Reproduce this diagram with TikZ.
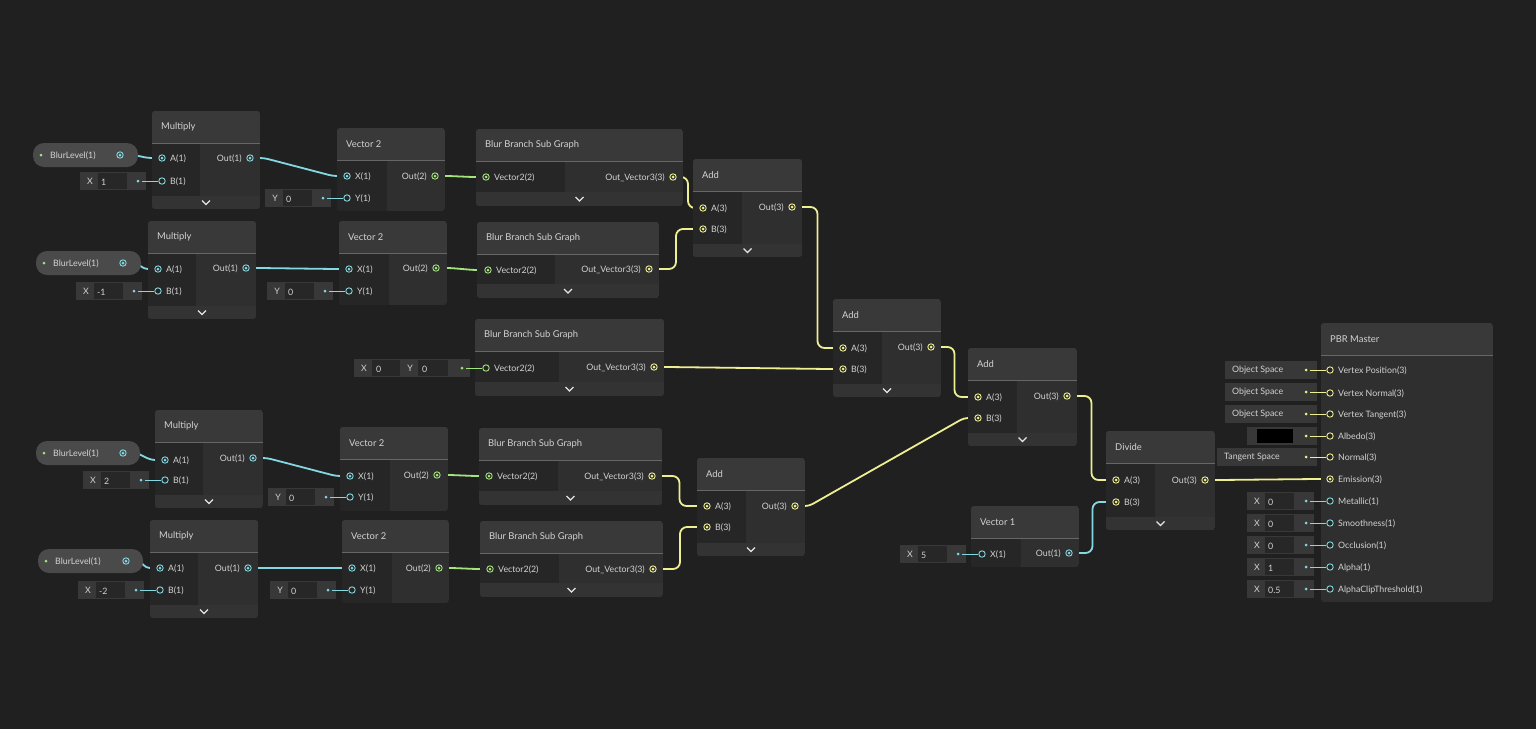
\documentclass[tikz,border=0pt]{standalone}
\usepackage{fontspec}
\setmainfont{Lato}
\usetikzlibrary{calc}
\pgfdeclarelayer{wires}
\pgfsetlayers{wires,main}
\definecolor{bg}{HTML}{202020}
\definecolor{nbody}{HTML}{2F2F2F}
\definecolor{nin}{HTML}{262626}
\definecolor{nhead}{HTML}{393939}
\definecolor{nfoot}{HTML}{333333}
\definecolor{fld}{HTML}{383838}
\definecolor{fldin}{HTML}{272727}
\definecolor{pill}{HTML}{4A4A4A}
\definecolor{cya}{HTML}{84D8E2}
\definecolor{grn}{HTML}{A4E47C}
\definecolor{yel}{HTML}{EEEE92}
\definecolor{txt}{HTML}{D2D2D2}
\tikzset{
  lbl/.style={text=txt,font=\fontsize{8.8}{10}\selectfont,inner sep=0pt},
  ttl/.style={text=txt,font=\fontsize{9.4}{11}\selectfont,inner sep=0pt,anchor=west},
  wire/.style={line width=1.8pt,rounded corners=4pt},
  vwirest/.style={line width=1.8pt,rounded corners=7pt},
}
\newcommand\gnode[8]{%
  \begin{scope}
    \clip[rounded corners=3pt] (#2,#3) rectangle (#4,#5);
    \fill[nbody] (#2,#3) rectangle (#4,#5);
    \fill[nhead] (#2,#3) rectangle (#4,#3+32);
    \ifnum#8>0
      \fill[nin] (#2,#3+32) rectangle (#6,#8);
      \fill[nfoot] (#2,#8) rectangle (#4,#5);
      \draw[white!90!black,line width=1.3pt] ({(#2+#4)/2-4},{(#8+#5)/2-2}) -- ({(#2+#4)/2},{(#8+#5)/2+2}) -- ({(#2+#4)/2+4},{(#8+#5)/2-2});
    \else
      \fill[nin] (#2,#3+32) rectangle (#6,#5);
    \fi
    \draw[black!60,line width=0.6pt] (#2,#3+32) -- (#4,#3+32);
  \end{scope}
  \node[ttl] (#1) at (#2+9,#3+16) {#7};
}
\newcommand\inport[6]{%
  \coordinate (#1) at (#2,#3);
  \fill[nin] (#1) circle (3.6pt);
  \draw[#4,line width=0.9pt] (#1) circle (3.2pt);
  \ifnum#5=1 \fill[#4] (#1) circle (1.5pt);\fi
  \node[lbl,anchor=west] (#1l) at (#2+8,#3+1) {#6};
}
\newcommand\outport[6]{%
  \coordinate (#1) at (#2,#3);
  \fill[nbody] (#1) circle (3.6pt);
  \draw[#4,line width=0.9pt] (#1) circle (3.2pt);
  \ifnum#5=1 \fill[#4] (#1) circle (1.5pt);\fi
  \node[lbl,anchor=east] (#1l) at (#2-8,#3+1) {#6};
}
\newcommand\valfield[7]{%
  \fill[fld] (#2,#4-9) rectangle (#3-16,#4+9);
  \fill[fldin] (#2+18,#4-8) rectangle (#2+47,#4+8);
  \node[lbl] (#1) at (#2+10,#4) {#5};
  \node[lbl,anchor=west] (#1v) at (#2+21,#4+1) {#6};
  \coordinate (#1d) at (#3-24,#4);
  \fill[#7] (#1d) circle (1.5pt);
  \draw[#7,line width=0.8pt] (#3-20,#4) -- (#3-4,#4);
}
\newcommand\blur[5]{%
  \fill[pill,rounded corners=11pt] (#2,#4-12) rectangle (#3,#4+12);
  \fill[grn] (#2+8,#4) circle (1.5pt);
  \node[lbl,anchor=west] (#1) at (#2+17,#4+1) {BlurLevel(1)};
  \coordinate (#1o) at (#5,#4);
  \draw[cya,line width=0.9pt] (#1o) circle (3.2pt);
  \fill[cya] (#1o) circle (1.5pt);
}
\newcommand\spacefield[6]{%
  \fill[fld] (#2,#4-9) rectangle (#3,#4+9);
  \node[lbl,anchor=west] (#1) at (#2+7,#4) {#6};
  \fill[yel] (#5-24,#4) circle (1.5pt);
  \draw[yel,line width=0.8pt] (#5-20,#4) -- (#5-4,#4);
}
\newcommand\wire[3]{\draw[wire,#1] (#2) -- ++(14pt,0) -- ($(#3)+(-14pt,0)$) -- (#3);}
\newcommand\vwire[3]{\draw[vwirest,#1] (#2) -| ($(#2)!0.5!(#3)$) |- (#3);}
\begin{document}
\begin{tikzpicture}[x=1pt,y=-1pt]
\useasboundingbox (0,0) rectangle (1536,729);
\begin{pgfonlayer}{wires}
\fill[bg] (0,0) rectangle (1536,729);
\end{pgfonlayer}

\gnode{m1}{152}{111}{260}{209}{200}{Multiply}{196}
\inport{m1a}{162}{158}{cya}{1}{A(1)} \inport{m1b}{162}{181}{cya}{0}{B(1)}
\outport{m1o}{250}{158}{cya}{1}{Out(1)}
\gnode{m2}{148}{221}{256}{319}{196}{Multiply}{306}
\inport{m2a}{158}{269}{cya}{1}{A(1)} \inport{m2b}{158}{291}{cya}{0}{B(1)}
\outport{m2o}{246}{268}{cya}{1}{Out(1)}
\gnode{m3}{155}{410}{263}{508}{203}{Multiply}{495}
\inport{m3a}{165}{460}{cya}{1}{A(1)} \inport{m3b}{165}{480}{cya}{0}{B(1)}
\outport{m3o}{253}{458}{cya}{1}{Out(1)}
\gnode{m4}{150}{520}{258}{618}{198}{Multiply}{605}
\inport{m4a}{160}{568}{cya}{1}{A(1)} \inport{m4b}{160}{590}{cya}{0}{B(1)}
\outport{m4o}{248}{568}{cya}{1}{Out(1)}

\gnode{v1}{337}{128}{445}{211}{387}{Vector 2}{0}
\inport{v1x}{347}{176}{cya}{1}{X(1)} \inport{v1y}{347}{198}{cya}{0}{Y(1)}
\outport{v1o}{435}{176}{grn}{1}{Out(2)}
\gnode{v2}{339}{221}{447}{305}{389}{Vector 2}{0}
\inport{v2x}{349}{269}{cya}{1}{X(1)} \inport{v2y}{349}{291}{cya}{0}{Y(1)}
\outport{v2o}{436}{268}{grn}{1}{Out(2)}
\gnode{v3}{340}{427}{448}{511}{390}{Vector 2}{0}
\inport{v3x}{350}{476}{cya}{1}{X(1)} \inport{v3y}{350}{497}{cya}{0}{Y(1)}
\outport{v3o}{437}{475}{grn}{1}{Out(2)}
\gnode{v4}{342}{520}{449}{603}{392}{Vector 2}{0}
\inport{v4x}{352}{568}{cya}{1}{X(1)} \inport{v4y}{352}{590}{cya}{0}{Y(1)}
\outport{v4o}{439}{568}{grn}{1}{Out(2)}

\gnode{b1}{476}{129}{683}{206}{565}{Blur Branch Sub Graph}{192}
\inport{b1i}{486}{177}{grn}{1}{Vector2(2)} \outport{b1o}{673}{177}{yel}{1}{Out\_Vector3(3)}
\gnode{b2}{477}{222}{659}{298}{555}{Blur Branch Sub Graph}{284}
\inport{b2i}{488}{270}{grn}{1}{Vector2(2)} \outport{b2o}{649}{269}{yel}{1}{Out\_Vector3(3)}
\gnode{b3}{475}{319}{664}{396}{559}{Blur Branch Sub Graph}{382}
\inport{b3i}{486}{368}{grn}{0}{Vector2(2)} \outport{b3o}{654}{367}{yel}{1}{Out\_Vector3(3)}
\gnode{b4}{479}{428}{662}{505}{558}{Blur Branch Sub Graph}{491}
\inport{b4i}{489}{476}{grn}{1}{Vector2(2)} \outport{b4o}{652}{476}{yel}{1}{Out\_Vector3(3)}
\gnode{b5}{480}{521}{663}{597}{559}{Blur Branch Sub Graph}{583}
\inport{b5i}{490}{569}{grn}{1}{Vector2(2)} \outport{b5o}{653}{569}{yel}{1}{Out\_Vector3(3)}

\gnode{a1}{693}{159}{802}{257}{742}{Add}{244}
\inport{a1a}{703}{208}{yel}{1}{A(3)} \inport{a1b}{703}{229}{yel}{1}{B(3)}
\outport{a1o}{792}{207}{yel}{1}{Out(3)}
\gnode{a2}{833}{299}{941}{397}{882}{Add}{384}
\inport{a2a}{843}{348}{yel}{1}{A(3)} \inport{a2b}{843}{369}{yel}{1}{B(3)}
\outport{a2o}{931}{347}{yel}{1}{Out(3)}
\gnode{a3}{968}{348}{1077}{446}{1017}{Add}{433}
\inport{a3a}{978}{397}{yel}{1}{A(3)} \inport{a3b}{978}{418}{yel}{1}{B(3)}
\outport{a3o}{1067}{396}{yel}{1}{Out(3)}
\gnode{a4}{697}{458}{805}{556}{746}{Add}{543}
\inport{a4a}{707}{506}{yel}{1}{A(3)} \inport{a4b}{707}{527}{yel}{1}{B(3)}
\outport{a4o}{795}{506}{yel}{1}{Out(3)}

\gnode{dv}{1106}{431}{1215}{530}{1155}{Divide}{517}
\inport{dva}{1116}{480}{yel}{1}{A(3)} \inport{dvb}{1116}{502}{yel}{1}{B(3)}
\outport{dvo}{1205}{480}{yel}{1}{Out(3)}
\gnode{vc1}{971}{506}{1079}{567}{1021}{Vector 1}{0}
\inport{vc1x}{982}{554}{cya}{0}{X(1)} \outport{vc1o}{1069}{553}{cya}{1}{Out(1)}

\begin{scope}
\clip[rounded corners=3pt] (1321,323) rectangle (1493,602);
\fill[nbody] (1321,323) rectangle (1493,602);
\fill[nhead] (1321,323) rectangle (1493,355);
\draw[black!60,line width=0.6pt] (1321,355) -- (1493,355);
\end{scope}
\node[ttl] (pbr) at (1330,339) {PBR Master};
\inport{p1}{1330}{370}{yel}{0}{Vertex Position(3)}
\inport{p2}{1330}{393}{yel}{0}{Vertex Normal(3)}
\inport{p3}{1330}{414}{yel}{0}{Vertex Tangent(3)}
\inport{p4}{1330}{436}{yel}{0}{Albedo(3)}
\inport{p5}{1330}{457}{yel}{0}{Normal(3)}
\inport{p6}{1330}{479}{yel}{1}{Emission(3)}
\inport{p7}{1330}{501}{cya}{0}{Metallic(1)}
\inport{p8}{1330}{523}{cya}{0}{Smoothness(1)}
\inport{p9}{1330}{545}{cya}{0}{Occlusion(1)}
\inport{p10}{1330}{567}{cya}{0}{Alpha(1)}
\inport{p11}{1330}{589}{cya}{0}{AlphaClipThreshold(1)}
\spacefield{s1}{1225}{1317}{370}{1330}{Object Space}
\spacefield{s2}{1225}{1317}{392}{1330}{Object Space}
\spacefield{s3}{1225}{1317}{414}{1330}{Object Space}
\fill[fld] (1247,427) rectangle (1317,445);
\fill[black] (1257,429) rectangle (1293,443);
\fill[yel] (1306,436) circle (1.5pt); \draw[yel,line width=0.8pt] (1310,436) -- (1326,436);
\spacefield{s5}{1217}{1317}{457}{1330}{Tangent Space}
\valfield{f7}{1247}{1330}{501}{X}{0}{cya}
\valfield{f8}{1247}{1330}{523}{X}{0}{cya}
\valfield{f9}{1247}{1330}{545}{X}{0}{cya}
\valfield{f10}{1247}{1330}{567}{X}{1}{cya}
\valfield{f11}{1247}{1330}{589}{X}{0.5}{cya}

\valfield{x1}{80}{162}{181}{X}{1}{cya}
\valfield{x2}{76}{158}{291}{X}{-1}{cya}
\valfield{x3}{83}{165}{480}{X}{2}{cya}
\valfield{x4}{78}{160}{590}{X}{-2}{cya}
\valfield{y1}{265}{347}{198}{Y}{0}{cya}
\valfield{y2}{267}{349}{291}{Y}{0}{cya}
\valfield{y3}{268}{350}{497}{Y}{0}{cya}
\valfield{y4}{270}{352}{590}{Y}{0}{cya}
\valfield{x5}{900}{982}{554}{X}{5}{cya}
\fill[fld] (354,359) rectangle (470,377);
\node[lbl] (b3x) at (364,368) {X};
\fill[fldin] (372,360) rectangle (400,376);
\node[lbl,anchor=west] at (376,369) {0};
\node[lbl] (b3y) at (410,368) {Y};
\fill[fldin] (418,360) rectangle (448,376);
\node[lbl,anchor=west] at (422,369) {0};
\fill[grn] (462,368) circle (1.5pt); \draw[grn,line width=0.8pt] (466,368) -- (482,368);

\blur{bl1}{33}{138}{155}{120}
\blur{bl2}{36}{141}{263}{123}
\blur{bl3}{36}{140}{453}{123}
\blur{bl4}{38}{143}{561}{126}

\begin{pgfonlayer}{wires}
\wire{cya}{bl1o}{m1a} \wire{cya}{bl2o}{m2a} \wire{cya}{bl3o}{m3a} \wire{cya}{bl4o}{m4a}
\wire{cya}{m1o}{v1x} \wire{cya}{m2o}{v2x} \wire{cya}{m3o}{v3x} \wire{cya}{m4o}{v4x}
\wire{grn}{v1o}{b1i} \wire{grn}{v2o}{b2i} \wire{grn}{v3o}{b4i} \wire{grn}{v4o}{b5i}
\vwire{yel}{b1o}{a1a} \vwire{yel}{b2o}{a1b}
\vwire{yel}{a1o}{a2a} \wire{yel}{b3o}{a2b}
\vwire{yel}{b4o}{a4a} \vwire{yel}{b5o}{a4b}
\vwire{yel}{a2o}{a3a} \wire{yel}{a4o}{a3b}
\vwire{yel}{a3o}{dva} \vwire{cya}{vc1o}{dvb}
\wire{yel}{dvo}{p6}
\end{pgfonlayer}
\end{tikzpicture}
\end{document}
